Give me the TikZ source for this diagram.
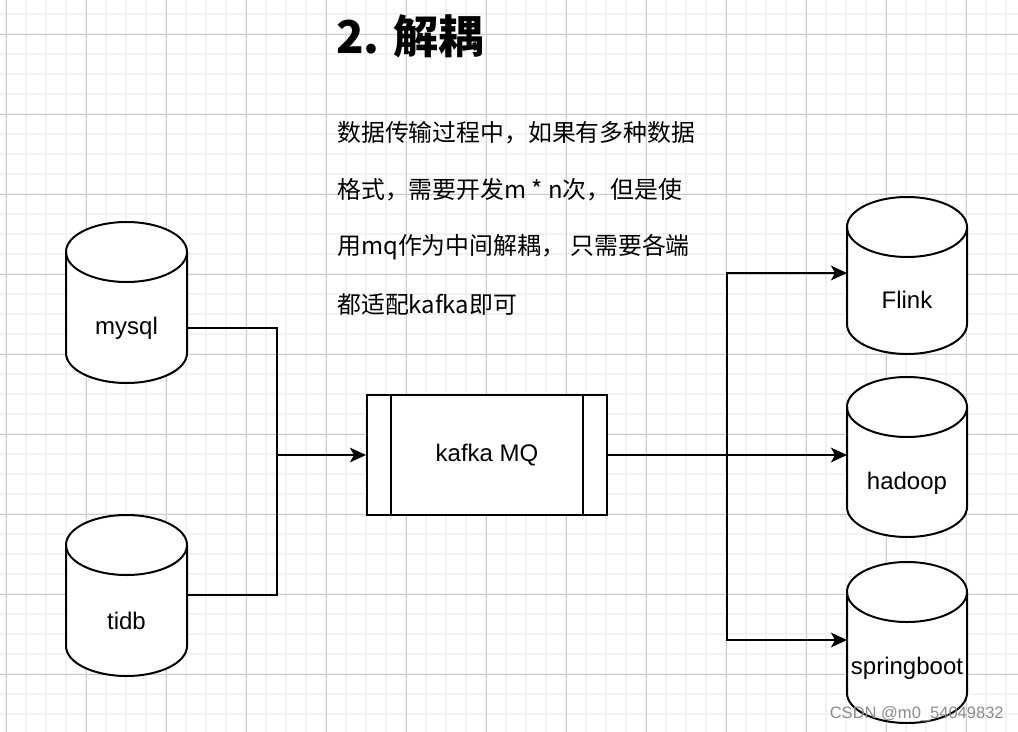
\documentclass[tikz,border=0pt]{standalone}
\usepackage{fontspec}
\setmainfont{Liberation Sans}
\newfontfamily\cjk{Noto Sans CJK SC}
\usetikzlibrary{arrows.meta}
\begin{document}
\begin{tikzpicture}[x=0.75pt,y=-0.75pt,
  conn/.style={line width=1.5pt,-{Stealth[length=12pt,width=11pt,inset=3pt]}},
  line/.style={line width=1.5pt},
  lbl/.style={font=\fontsize{18}{20}\selectfont},
  para/.style={anchor=west,font=\cjk\fontsize{17.9}{20}\selectfont,inner sep=0}]
\useasboundingbox (0,0) rectangle (1018,732);
\fill[white] (0,0) rectangle (1018,732);
\foreach \x in {6,26,...,1018} \draw[black!5,line width=1.5pt] (\x,0) -- (\x,732);
\foreach \y in {14,34,...,732} \draw[black!5,line width=1.5pt] (0,\y) -- (1018,\y);
\foreach \x in {6,86,...,1018} \draw[black!20,line width=0.6pt] (\x,0) -- (\x,732);
\foreach \y in {34,114,...,732} \draw[black!20,line width=0.6pt] (0,\y) -- (1018,\y);
% cylinders: name, x1, x2, top, bottom, label, label y
\foreach \n/\a/\b/\t/\u/\l/\ly in {mysql/66/187/222/383/mysql/328, tidb/66/187/515/676/tidb/621, flink/847/967/197/354/Flink/300, hadoop/847/967/377/537/hadoop/483, spring/847/967/562/723/springboot/668}{
  \pgfmathsetmacro\rx{(\b-\a)/2}
  \draw[line width=1.5pt,fill=white] (\a,\t+30) -- (\a,\u-30) arc[start angle=180,end angle=0,x radius=\rx,y radius=30] -- (\b,\t+30) arc[start angle=0,end angle=-180,x radius=\rx,y radius=30] -- cycle;
  \draw[line width=1.5pt] (\a,\t+30) arc[start angle=180,end angle=0,x radius=\rx,y radius=30];
  \node[lbl,inner sep=0,minimum width={(\b-\a)*0.75pt},minimum height=0pt] (\n) at ({(\a+\b)/2},\ly) {\l};
}
\node[draw,line width=1.5pt,fill=white,minimum width=180pt,minimum height=90pt,inner sep=0,lbl] (kafka) at (487,455) {kafka MQ};
\draw[line width=1.5pt] (391,395) -- (391,515) (583,395) -- (583,515);
\coordinate (jl) at (277,455);
\coordinate (jr) at (727,455);
\coordinate (t1) at (847,273);
\coordinate (t2) at (847,455);
\coordinate (t3) at (847,640);
\draw[line] (187,328) -- (277,328) -- (jl);
\draw[line] (187,595) -- (277,595) -- (jl);
\draw[conn] (jl) -- (kafka.west);
\draw[line] (kafka.east) -- (jr);
\draw[conn] (jr) |- (t1);
\draw[conn] (jr) -- (t2);
\draw[conn] (jr) |- (t3);
\node[anchor=west,inner sep=0,font=\cjk\bfseries\fontsize{34}{36}\selectfont] (title) at (336,36) {2. 解耦};
\node[para] (p1) at (337,133) {数据传输过程中，如果有多种数据};
\node[para] (p2) at (337,190) {格式，需要开发m * n次，但是使};
\node[para] (p3) at (337,247) {用mq作为中间解耦， 只需要各端};
\node[para] (p4) at (337,305) {都适配kafka即可};
\node[anchor=east,inner sep=0,text=black!45,font=\fontsize{12.4}{14}\selectfont] (wm) at (1004,714) {CSDN @m0\_54049832};
\end{tikzpicture}
\end{document}
